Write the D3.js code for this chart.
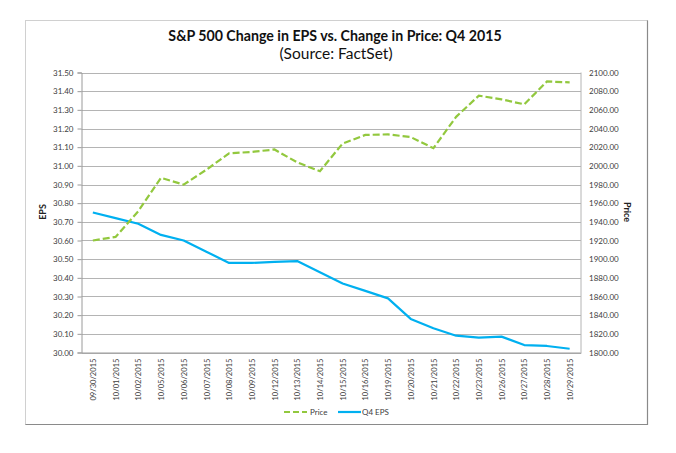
<!DOCTYPE html>
<html>
<head>
<meta charset="utf-8">
<script src="https://cdn.jsdelivr.net/npm/d3@7"></script>
<style>
  html, body { margin: 0; padding: 0; background: #fff; }
  svg text { font-family: Lato, "Open Sans", sans-serif; }
</style>
</head>
<body>
<div id="chart"></div>
<script>
const dates = ['09/30/2015', '10/01/2015', '10/02/2015', '10/05/2015', '10/06/2015', '10/07/2015',
  '10/08/2015', '10/09/2015', '10/12/2015', '10/13/2015', '10/14/2015', '10/15/2015',
  '10/16/2015', '10/19/2015', '10/20/2015', '10/21/2015', '10/22/2015', '10/23/2015',
  '10/26/2015', '10/27/2015', '10/28/2015', '10/29/2015'];

const price = [1920.0, 1923.8, 1951.4, 1987.1, 1979.9, 1995.8, 2013.4, 2014.9, 2017.5, 2003.7,
  1994.2, 2023.9, 2033.1, 2033.7, 2030.8, 2018.9, 2052.5, 2075.2, 2071.2, 2065.9, 2090.4, 2089.4];

const eps = [30.75, 30.72, 30.69, 30.63, 30.60, 30.54, 30.48, 30.48, 30.485, 30.49,
  30.43, 30.37, 30.33, 30.29, 30.18, 30.13, 30.09, 30.08, 30.085, 30.04, 30.035, 30.02];

const epsTicks = [30.0, 30.1, 30.2, 30.3, 30.4, 30.5, 30.6, 30.7, 30.8, 30.9,
  31.0, 31.1, 31.2, 31.3, 31.4, 31.5];
const priceTicks = [1800, 1820, 1840, 1860, 1880, 1900, 1920, 1940, 1960, 1980,
  2000, 2020, 2040, 2060, 2080, 2100];

const width = 676;
const height = 453;
const plot = { left: 81.5, right: 581, top: 72.5, bottom: 352.5 };

const svg = d3.select('#chart')
  .append('svg')
  .attr('width', width)
  .attr('height', height);

// chart frame
svg.append('rect')
  .attr('x', 25.5).attr('y', 20.5)
  .attr('width', 622).attr('height', 404)
  .attr('fill', '#fff')
  .attr('stroke', '#d0d0d0');
svg.append('path')
  .attr('d', 'M647.5,20.5V424.5H25.5')
  .attr('fill', 'none')
  .attr('stroke', '#8a8a8a')
  .attr('stroke-width', 1.2);

const x = d3.scalePoint()
  .domain(dates)
  .range([plot.left, plot.right])
  .padding(0.5);

const yEps = d3.scaleLinear()
  .domain([30.0, 31.5])
  .range([plot.bottom, plot.top]);

const yPrice = d3.scaleLinear()
  .domain([1800, 2100])
  .range([plot.bottom, plot.top]);

// gridlines
svg.append('g')
  .selectAll('line')
  .data(epsTicks)
  .enter()
  .append('line')
  .attr('x1', plot.left).attr('x2', plot.right)
  .attr('y1', d => Math.round(yEps(d)) + 0.5)
  .attr('y2', d => Math.round(yEps(d)) + 0.5)
  .attr('stroke', '#b4b4b4')
  .attr('stroke-width', 1);

// plot border right side
svg.append('line')
  .attr('x1', plot.right).attr('x2', plot.right)
  .attr('y1', plot.top).attr('y2', plot.bottom)
  .attr('stroke', '#b4b4b4');

// left axis
const leftAxis = svg.append('g')
  .attr('transform', `translate(${plot.left},0)`)
  .call(d3.axisLeft(yEps).tickValues(epsTicks).tickFormat(d3.format('.2f')).tickSize(4).tickPadding(4));
leftAxis.select('.domain').attr('stroke', '#9a9a9a');
leftAxis.selectAll('.tick line').attr('stroke', '#9a9a9a');
leftAxis.selectAll('.tick text')
  .style('font-family', 'Lato, sans-serif')
  .style('font-size', '8px')
  .attr('fill', '#404040');

// right axis
const rightAxis = svg.append('g')
  .attr('transform', `translate(${plot.right},0)`)
  .call(d3.axisRight(yPrice).tickValues(priceTicks).tickFormat(d3.format('.2f')).tickSize(0).tickPadding(8));
rightAxis.select('.domain').remove();
rightAxis.selectAll('.tick text')
  .style('font-family', 'Lato, sans-serif')
  .style('font-size', '8px')
  .attr('fill', '#404040');

// x axis
const bottomAxis = svg.append('g')
  .attr('transform', `translate(0,${plot.bottom})`)
  .call(d3.axisBottom(x).tickSize(0).tickPadding(0));
bottomAxis.select('.domain').attr('stroke', '#9a9a9a');
bottomAxis.selectAll('.tick text')
  .style('font-family', 'Lato, sans-serif')
  .style('font-size', '7.6px')
  .attr('fill', '#404040')
  .attr('text-anchor', 'end')
  .attr('transform', 'rotate(-90)')
  .attr('x', -6)
  .attr('y', 0)
  .attr('dy', '0.35em');

// series lines
const priceLine = d3.line()
  .x((d, i) => x(dates[i]))
  .y(d => yPrice(d));

const epsLine = d3.line()
  .x((d, i) => x(dates[i]))
  .y(d => yEps(d));

svg.append('path')
  .datum(eps)
  .attr('d', epsLine)
  .attr('fill', 'none')
  .attr('stroke', '#00B0F0')
  .attr('stroke-width', 2.2)
  .attr('stroke-linejoin', 'round');

svg.append('path')
  .datum(price)
  .attr('d', priceLine)
  .attr('fill', 'none')
  .attr('stroke', '#92C83E')
  .attr('stroke-width', 2.2)
  .attr('stroke-dasharray', '7,3');

// axis titles
svg.append('text')
  .attr('transform', 'translate(46,212) rotate(-90)')
  .attr('text-anchor', 'middle')
  .style('font-size', '9px')
  .style('font-weight', 'bold')
  .attr('fill', '#222')
  .text('EPS');

svg.append('text')
  .attr('transform', 'translate(624,212) rotate(90)')
  .attr('text-anchor', 'middle')
  .style('font-size', '9px')
  .style('font-weight', 'bold')
  .attr('fill', '#222')
  .text('Price');

// title
svg.append('text')
  .attr('x', 335)
  .attr('y', 41)
  .attr('text-anchor', 'middle')
  .style('font-size', '14.2px')
  .style('font-weight', 'bold')
  .attr('fill', '#111')
  .text('S&P 500 Change in EPS vs. Change in Price: Q4 2015');

svg.append('text')
  .attr('x', 336)
  .attr('y', 58.5)
  .attr('text-anchor', 'middle')
  .style('font-size', '15.5px')
  .attr('fill', '#111')
  .text('(Source: FactSet)');

// legend
const legend = svg.append('g').attr('transform', 'translate(284,412)');
legend.append('line')
  .attr('x1', 0).attr('x2', 23).attr('y1', 0).attr('y2', 0)
  .attr('stroke', '#92C83E').attr('stroke-width', 2.2).attr('stroke-dasharray', '6,3');
legend.append('text')
  .attr('x', 26).attr('y', 0).attr('dy', '0.35em')
  .style('font-size', '8px').attr('fill', '#404040')
  .text('Price');
legend.append('line')
  .attr('x1', 54).attr('x2', 77).attr('y1', 0).attr('y2', 0)
  .attr('stroke', '#00B0F0').attr('stroke-width', 2.2);
legend.append('text')
  .attr('x', 78).attr('y', 0).attr('dy', '0.35em')
  .style('font-size', '8px').attr('fill', '#404040')
  .text('Q4 EPS');
</script>
</body>
</html>
